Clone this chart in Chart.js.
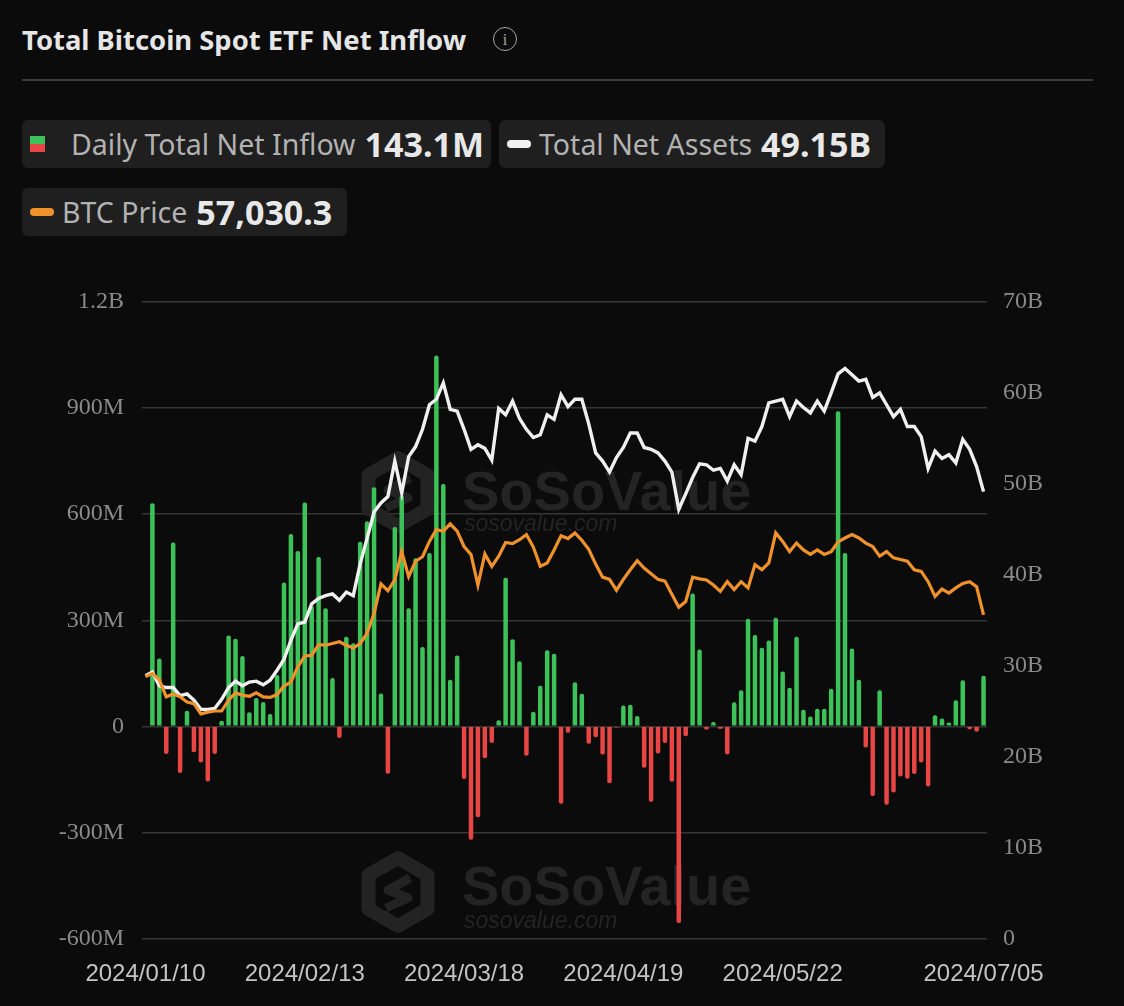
<!DOCTYPE html>
<html>
<head>
<meta charset="utf-8">
<title>Total Bitcoin Spot ETF Net Inflow</title>
<script src="https://cdn.jsdelivr.net/npm/chart.js@4.4.1/dist/chart.umd.min.js"></script>
<style>
  html, body { margin: 0; padding: 0; background: #0b0b0b; }
  body { width: 1124px; height: 1006px; position: relative; overflow: hidden; font-family: "Noto Sans", sans-serif; }
  .title { position: absolute; left: 22px; top: 21px; line-height: 38px; font-size: 27.4px; font-weight: 700; color: #e6e6e6; }
  .info { position: absolute; left: 493px; top: 27px; width: 22px; height: 22px; border: 1.6px solid #a6a6a6; border-radius: 50%;
          color: #a6a6a6; font: 16px "Liberation Serif", serif; text-align: center; line-height: 23px; }
  .rule { position: absolute; left: 22px; top: 79px; width: 1071px; height: 2px; background: #3a3a3a; }
  .pill { position: absolute; height: 48px; background: #1f1f1f; border-radius: 6px; display: flex; align-items: center; white-space: nowrap; }
  .lab { font-size: 28.5px; color: #b2b2b2; }
  .val { font-size: 34px; font-weight: 700; color: #e8e8e8; margin-left: 9px; }
  .sq { width: 15px; height: 16px; margin-left: 8px; margin-right: 26px; background: linear-gradient(#3dc159 0 50%, #e84545 50% 100%); }
  .dash { width: 24px; height: 8px; border-radius: 4px; margin-left: 8px; margin-right: 8px; }
  #wrap { position: absolute; left: 0; top: 260px; width: 1124px; height: 730px; }
</style>
</head>
<body>
<div class="title">Total Bitcoin Spot ETF Net Inflow</div>
<div class="info">i</div>
<div class="rule"></div>

<div class="pill" style="left:22px; top:120px; width:469px;">
  <div class="sq"></div><span class="lab">Daily Total Net Inflow</span><span class="val" id="vInflow"></span>
</div>
<div class="pill" style="left:499px; top:120px; width:386px;">
  <div class="dash" style="background:#f0f0f0;"></div><span class="lab">Total Net Assets</span><span class="val" id="vAssets"></span>
</div>
<div class="pill" style="left:22px; top:188px; width:325px;">
  <div class="dash" style="background:#f0922c;"></div><span class="lab">BTC Price</span><span class="val" id="vPrice"></span>
</div>

<div id="wrap"><canvas id="grafik_inflow"></canvas></div>

<script>
// trading days, 2024
var dates = [
    '2024/01/10', '2024/01/11', '2024/01/12', '2024/01/16', '2024/01/17', '2024/01/18', '2024/01/19', '2024/01/22',
    '2024/01/23', '2024/01/24', '2024/01/25', '2024/01/26', '2024/01/29', '2024/01/30', '2024/01/31',
    '2024/02/01', '2024/02/02', '2024/02/05', '2024/02/06', '2024/02/07', '2024/02/08', '2024/02/09', '2024/02/12',
    '2024/02/13', '2024/02/14', '2024/02/15', '2024/02/16', '2024/02/20', '2024/02/21', '2024/02/22', '2024/02/23',
    '2024/02/26', '2024/02/27', '2024/02/28', '2024/02/29',
    '2024/03/01', '2024/03/04', '2024/03/05', '2024/03/06', '2024/03/07', '2024/03/08', '2024/03/11', '2024/03/12',
    '2024/03/13', '2024/03/14', '2024/03/15', '2024/03/18', '2024/03/19', '2024/03/20', '2024/03/21', '2024/03/22',
    '2024/03/25', '2024/03/26', '2024/03/27', '2024/03/28',
    '2024/04/01', '2024/04/02', '2024/04/03', '2024/04/04', '2024/04/05', '2024/04/08', '2024/04/09', '2024/04/10',
    '2024/04/11', '2024/04/12', '2024/04/15', '2024/04/16', '2024/04/17', '2024/04/18', '2024/04/19', '2024/04/22',
    '2024/04/23', '2024/04/24', '2024/04/25', '2024/04/26', '2024/04/29', '2024/04/30',
    '2024/05/01', '2024/05/02', '2024/05/03', '2024/05/06', '2024/05/07', '2024/05/08', '2024/05/09', '2024/05/10',
    '2024/05/13', '2024/05/14', '2024/05/15', '2024/05/16', '2024/05/17', '2024/05/20', '2024/05/21', '2024/05/22',
    '2024/05/23', '2024/05/24', '2024/05/28', '2024/05/29', '2024/05/30', '2024/05/31',
    '2024/06/03', '2024/06/04', '2024/06/05', '2024/06/06', '2024/06/07', '2024/06/10', '2024/06/11', '2024/06/12',
    '2024/06/13', '2024/06/14', '2024/06/17', '2024/06/18', '2024/06/20', '2024/06/21', '2024/06/24', '2024/06/25',
    '2024/06/26', '2024/06/27', '2024/06/28',
    '2024/07/01', '2024/07/02', '2024/07/03', '2024/07/05'
];

// daily total net inflow, million USD
var inflow = [
    null, 631, 192, -78, 520, -132, 44, -73, -102, -156,
    -78, 16, 257, 248, 199, 40, 80, 69, 35, 145,
    407, 544, 496, 633, 340, 479, 334, 137, -33, 253,
    235, 522, 580, 676, 93, -134, 564, 652, 334, 475,
    224, 490, 1049, 685, 132, 200, -149, -321, -257, -90,
    -47, 17, 420, 246, 184, -83, 41, 115, 215, 205,
    -219, -18, 125, 92, -49, -31, -80, -161, -3, 59,
    61, 29, -117, -213, -77, -47, -157, -556, -28, 376,
    217, -9, 12, -7, -80, 68, 102, 304, 258, 222,
    243, 307, 155, 109, 253, 47, 28, 50, 50, 106,
    891, 490, 220, 132, -60, -197, 102, -222, -187, -142,
    -148, -135, -102, -170, 31, 22, 11, 74, 130, -8,
    -15, 143.1
];

// total net assets, billion USD
var netAssets = [
    28.9, 29.3, 27.8, 27.6, 27.6, 26.7, 26.9, 26.2, 25.2, 25.2,
    25.3, 26.3, 27.6, 28.3, 27.8, 28.2, 28.3, 27.9, 28.4, 29.5,
    30.7, 32.8, 34.6, 34.8, 36.8, 37.4, 37.7, 37.9, 37.2, 38.1,
    37.7, 41.2, 44.0, 46.9, 47.9, 48.6, 52.5, 49.0, 53.0, 54.1,
    56.0, 58.7, 59.3, 61.1, 58.2, 58.0, 56.0, 53.8, 54.3, 53.9,
    52.6, 58.3, 57.6, 59.1, 57.2, 56.0, 55.1, 55.4, 57.6, 57.1,
    59.8, 58.5, 59.3, 59.3, 56.6, 53.4, 52.5, 51.3, 52.9, 54.0,
    55.6, 55.6, 54.0, 53.8, 53.4, 52.5, 51.3, 47.2, 48.9, 50.7,
    52.2, 52.1, 51.5, 51.7, 50.3, 52.1, 51.0, 55.0, 54.7, 56.3,
    58.9, 59.1, 59.3, 57.4, 59.1, 58.4, 57.8, 59.1, 58.0, 60.0,
    62.1, 62.7, 62.0, 61.3, 61.5, 59.5, 60.0, 58.7, 57.4, 58.2,
    56.3, 56.3, 55.2, 51.7, 53.6, 52.8, 53.2, 52.3, 54.9, 53.8,
    51.9, 49.15
];

// BTC price, USD
var btcPrice = [
    46200, 46700, 45600, 42600, 43100, 42600, 41700, 41400, 39600, 39900,
    40100, 40100, 42000, 43300, 42900, 42700, 43300, 42600, 42500, 43000,
    44500, 45200, 47900, 49800, 49900, 51800, 51700, 52000, 52300, 51700,
    51200, 52000, 53800, 57300, 62500, 61300, 63200, 68200, 63800, 66500,
    67300, 70000, 72100, 71800, 73100, 71800, 69100, 67700, 62300, 67800,
    65600, 67400, 69800, 69600, 70300, 71200, 69000, 65600, 66200, 68500,
    71000, 70500, 71500, 70200, 68600, 66000, 63700, 63300, 61400, 63300,
    65000, 66600, 65300, 64300, 63300, 63000, 60700, 58400, 59400, 63700,
    63400, 63200, 62300, 61200, 62900, 61500, 62900, 61800, 65900, 65000,
    66200, 71500, 70000, 68200, 69700, 68500, 67700, 68500, 67700, 68200,
    69900, 70600, 71200, 70600, 69700, 69100, 67400, 68200, 67100, 66800,
    66500, 65000, 64700, 62900, 60300, 61600, 60900, 61800, 62600, 62900,
    62000, 57030.3
];

// which category labels are printed under the x axis
var tickIdx = [0, 23, 46, 69, 92, 121];

var green = '#3dc159';
var red = '#e84545';

var last = dates.length - 1;
document.getElementById('vInflow').textContent = inflow[last] + 'M';
document.getElementById('vAssets').textContent = netAssets[last].toFixed(2) + 'B';
document.getElementById('vPrice').textContent = btcPrice[last].toLocaleString('en-US', { minimumFractionDigits: 1 });

// faint SoSoValue marks behind the data
var watermark = {
    id: 'watermark',
    beforeDatasetsDraw: function (chart) {
        var ctx = chart.ctx;
        ctx.save();
        [[398, 232, 250, 271], [398, 632, 645, 668]].forEach(function (m) {
            var cx = m[0], cy = m[1];
            ctx.strokeStyle = '#232323';
            ctx.lineWidth = 14;
            ctx.lineJoin = 'round';
            ctx.beginPath();
            for (var k = 0; k < 6; k++) {
                var a = Math.PI / 180 * (60 * k - 90);
                var px = cx + 34 * Math.cos(a), py = cy + 34 * Math.sin(a);
                if (k === 0) ctx.moveTo(px, py); else ctx.lineTo(px, py);
            }
            ctx.closePath();
            ctx.stroke();
            ctx.lineWidth = 9;
            ctx.beginPath();
            ctx.moveTo(cx + 12, cy - 14);
            ctx.lineTo(cx - 10, cy - 2);
            ctx.lineTo(cx + 10, cy + 6);
            ctx.lineTo(cx - 12, cy + 16);
            ctx.stroke();
            ctx.fillStyle = '#242424';
            ctx.textBaseline = 'alphabetic';
            ctx.font = 'bold 56px "Liberation Sans"';
            ctx.fillText('SoSoValue', 462, m[2]);
            ctx.font = 'italic 23px "Liberation Sans"';
            ctx.fillText('sosovalue.com', 464, m[3]);
        });
        ctx.restore();
    }
};

var ctx = document.getElementById('grafik_inflow');
new Chart(ctx, {
    type: 'bar',
    data: {
        labels: dates,
        datasets: [{
            type: 'line',
            label: 'BTC Price',
            data: btcPrice,
            yAxisID: 'y2',
            borderColor: '#f0922c',
            borderWidth: 3.2,
            pointRadius: 0,
            tension: 0,
            order: 1
        }, {
            type: 'line',
            label: 'Total Net Assets',
            data: netAssets,
            yAxisID: 'y1',
            borderColor: '#f0f0f0',
            borderWidth: 3.4,
            pointRadius: 0,
            tension: 0,
            order: 2
        }, {
            type: 'bar',
            label: 'Daily Total Net Inflow',
            data: inflow,
            yAxisID: 'y',
            backgroundColor: inflow.map(function (v) { return v >= 0 ? green : red; }),
            barPercentage: 0.65,
            categoryPercentage: 1,
            borderRadius: 2,
            order: 3
        }]
    },
    options: {
        responsive: true,
        maintainAspectRatio: false,
        animation: false,
        layout: { padding: { top: 42 } },
        plugins: {
            legend: { display: false },
            tooltip: { enabled: false }
        },
        scales: {
            x: {
                offset: true,
                grid: { display: false },
                border: { display: false },
                ticks: {
                    autoSkip: false,
                    maxRotation: 0,
                    padding: 13,
                    color: '#c4c4c4',
                    font: { family: '"Liberation Sans", Arial, sans-serif', size: 24 },
                    callback: function (value, index) {
                        return tickIdx.indexOf(index) >= 0 ? this.getLabelForValue(value) : null;
                    }
                },
                afterFit: function (scale) { scale.height = 51.5; }
            },
            y: {
                position: 'left',
                min: -600,
                max: 1200,
                grid: { color: '#363636', lineWidth: 1.5, drawTicks: false },
                border: { display: false },
                ticks: {
                    stepSize: 300,
                    padding: 18,
                    color: '#8a8a8a',
                    font: { family: '"Liberation Serif", serif', size: 24 },
                    callback: function (v) {
                        if (v === 0) return '0';
                        return Math.abs(v) >= 1000 ? (v / 1000) + 'B' : v + 'M';
                    }
                },
                afterFit: function (scale) { scale.width = 142; }
            },
            y1: {
                position: 'right',
                min: 0,
                max: 70,
                grid: { display: false, drawTicks: false },
                border: { display: false },
                ticks: {
                    stepSize: 10,
                    padding: 16,
                    color: '#8a8a8a',
                    font: { family: '"Liberation Serif", serif', size: 24 },
                    callback: function (v) { return v === 0 ? '0' : v + 'B'; }
                },
                afterFit: function (scale) { scale.width = 137; }
            },
            y2: {
                display: false,
                min: 0,
                max: 112200
            }
        }
    },
    plugins: [watermark]
});
</script>
</body>
</html>
